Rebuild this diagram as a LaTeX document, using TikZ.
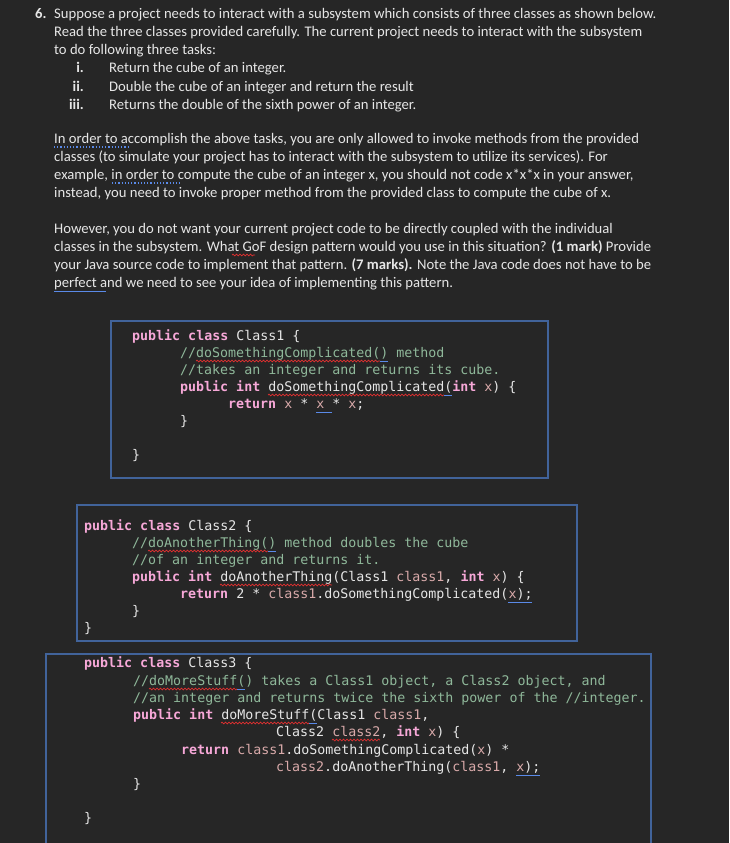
\documentclass[tikz,border=0pt]{standalone}
\usepackage{fontspec}
\setmainfont{Carlito}
\newfontfamily\codefont{DejaVu Sans Mono}
\usetikzlibrary{decorations.pathmorphing}
\definecolor{bg}{HTML}{262626}
\definecolor{fg}{HTML}{E6E6E6}
\definecolor{kw}{HTML}{F7A8D8}
\definecolor{cm}{HTML}{8FB89A}
\definecolor{vr}{HTML}{D9AAAA}
\definecolor{bx}{HTML}{41639A}
\definecolor{sq}{HTML}{E03030}
\definecolor{bl}{HTML}{5A8AE8}
\newcommand\kw[1]{\textcolor{kw}{\bfseries #1}}
\newcommand\cmt[1]{\textcolor{cm}{#1}}
\newcommand\vr[1]{\textcolor{vr}{#1}}
\tikzset{
 txt/.style={anchor=base west,inner sep=0,text=fg,font=\fontsize{14.67}{18}\selectfont},
 code/.style={anchor=base west,inner sep=0,text=fg,font=\codefont\fontsize{13.3}{17}\selectfont},
 box/.style={draw=bx,line width=2.6pt},
 sqg/.style={draw=sq,line width=0.7pt,decorate,decoration={snake,segment length=3.5pt,amplitude=0.9pt}},
 blu/.style={draw=bl,line width=1pt},
 dot/.style={draw=bl,line width=1.2pt,dotted}
}
\begin{document}
\begin{tikzpicture}[x=1pt,y=-1pt]
\fill[bg] (0,0) rectangle (729,843);
\useasboundingbox (0,0) rectangle (729,843);
% question text
\node[txt] (n6) at (35,19) {\bfseries 6.};
\node[txt] (l1) at (54,19) {Suppose a project needs to interact with a subsystem which consists of three classes as shown below.};
\node[txt] (l2) at (54,37) {Read the three classes provided carefully. The current project needs to interact with the subsystem};
\node[txt] (l3) at (54,55) {to do following three tasks:};
\node[txt,anchor=base east] (r1) at (84,73) {\bfseries i.};
\node[txt,anchor=base east] (r2) at (84,91) {\bfseries ii.};
\node[txt,anchor=base east] (r3) at (84,109) {\bfseries iii.};
\node[txt] (i1) at (109,73) {Return the cube of an integer.};
\node[txt] (i2) at (109,91) {Double the cube of an integer and return the result};
\node[txt] (i3) at (109,109) {Returns the double of the sixth power of an integer.};
\node[txt] (p1) at (54,143) {In order to accomplish the above tasks, you are only allowed to invoke methods from the provided};
\node[txt] (p2) at (54,161) {classes (to simulate your project has to interact with the subsystem to utilize its services). For};
\node[txt] (p3) at (54,179) {example, in order to compute the cube of an integer x, you should not code x*x*x in your answer,};
\node[txt] (p4) at (54,197) {instead, you need to invoke proper method from the provided class to compute the cube of x.};
\node[txt] (q1) at (54,233) {However, you do not want your current project code to be directly coupled with the individual};
\node[txt] (q2) at (54,251) {classes in the subsystem. What GoF design pattern would you use in this situation? \textbf{(1 mark)} Provide};
\node[txt] (q3) at (54,269) {your Java source code to implement that pattern. \textbf{(7 marks).} Note the Java code does not have to be};
\node[txt] (q4) at (54,287) {perfect and we need to see your idea of implementing this pattern.};
\draw[dot] (54,147) -- (130,147);
\draw[dot] (112,183) -- (181,183);
\draw[sqg] (232,255) -- (255,255);
\draw[blu] (54,291) -- (106,291);
% boxes
\draw[box] (111,321) rectangle (548,478);
\draw[box] (77,505) rectangle (577,641);
\draw[box] (46,654) rectangle (651,850);
% Class1
\node[code] (a1) at (132,340) {\kw{public class} Class1 \{};
\node[code] (a2) at (180,357) {\cmt{//doSomethingComplicated() method}};
\node[code] (a3) at (180,374) {\cmt{//takes an integer and returns its cube.}};
\node[code] (a4) at (180,391) {\kw{public int} doSomethingComplicated(\kw{int} \vr{x}) \{};
\node[code] (a5) at (228,408) {\kw{return} \vr{x} * \vr{x} * \vr{x};};
\node[code] (a6) at (180,425) {\}};
\node[code] (a7) at (132,459) {\}};
\draw[sqg] (196,361) -- (380,361); \draw[blu] (380,361) -- (388,361);
\draw[sqg] (268,395) -- (444,395); \draw[blu] (444,395) -- (452,395);
\draw[blu] (316,412) -- (332,412);
% Class2
\node[code] (b1) at (84,530) {\kw{public class} Class2 \{};
\node[code] (b2) at (132,547) {\cmt{//doAnotherThing() method doubles the cube}};
\node[code] (b3) at (132,564) {\cmt{//of an integer and returns it.}};
\node[code] (b4) at (132,581) {\kw{public int} doAnotherThing(Class1 \vr{class1}, \kw{int} \vr{x}) \{};
\node[code] (b5) at (180,598) {\kw{return} 2 * \vr{class1}.doSomethingComplicated(\vr{x});};
\node[code] (b6) at (132,615) {\}};
\node[code] (b7) at (84,632) {\}};
\draw[sqg] (148,551) -- (268,551); \draw[blu] (268,551) -- (276,551);
\draw[sqg] (220,585) -- (332,585);
\draw[blu] (508,602) -- (532,602);
% Class3
\node[code] (c1) at (84,667) {\kw{public class} Class3 \{};
\node[code] (c2) at (133,685) {\cmt{//doMoreStuff() takes a Class1 object, a Class2 object, and}};
\node[code] (c3) at (133,702) {\cmt{//an integer and returns twice the sixth power of the //integer.}};
\node[code] (c4) at (133,719) {\kw{public int} doMoreStuff(Class1 \vr{class1},};
\node[code] (c5) at (276,736) {Class2 \vr{class2}, \kw{int} \vr{x}) \{};
\node[code] (c6) at (181,754) {\kw{return} \vr{class1}.doSomethingComplicated(\vr{x}) *};
\node[code] (c7) at (276,771) {\vr{class2}.doAnotherThing(\vr{class1}, \vr{x});};
\node[code] (c8) at (133,788) {\}};
\node[code] (c9) at (84,822) {\}};
\draw[sqg] (149,689) -- (237,689); \draw[blu] (237,689) -- (245,689);
\draw[sqg] (221,723) -- (309,723); \draw[blu] (309,723) -- (317,723);
\draw[sqg] (332,740) -- (380,740);
\draw[blu] (516,775) -- (540,775);
\end{tikzpicture}
\end{document}
